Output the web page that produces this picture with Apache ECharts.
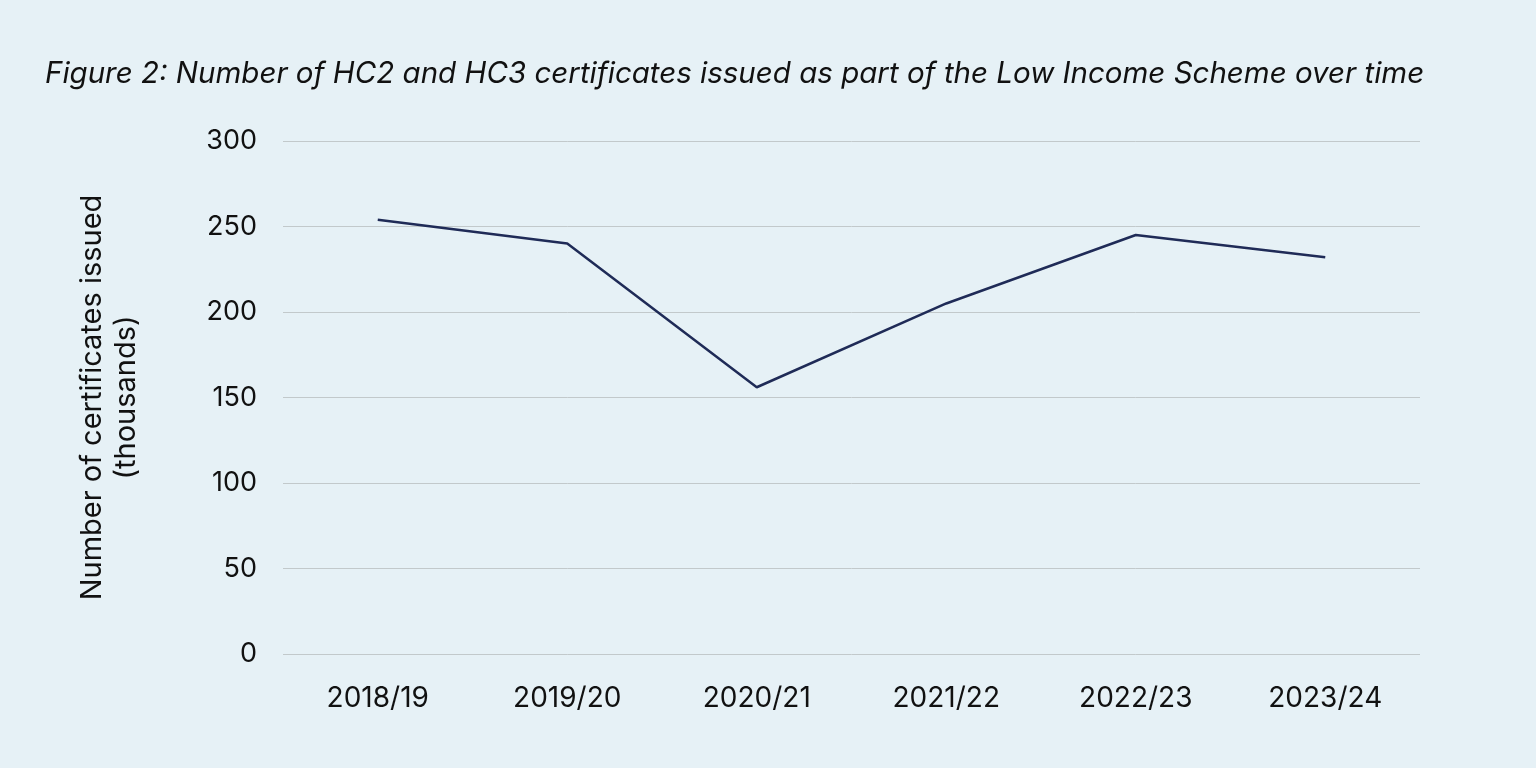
<!DOCTYPE html>
<html>
<head>
<meta charset="utf-8">
<script src="https://cdn.jsdelivr.net/npm/echarts@6/dist/echarts.min.js"></script>
<style>
	html, body { margin: 0; padding: 0; background: #e6f1f6; }
	#chart { width: 1536px; height: 768px; }
</style>
</head>
<body>
<div id="chart"></div>
<script>
	// 数据
	var years = ['2018/19', '2019/20', '2020/21', '2021/22', '2022/23', '2023/24'];
	var certificates = [254, 240, 156, 205, 245, 232];
	var yTicks = [0, 50, 100, 150, 200, 250, 300];

	var font = 'Inter, "Open Sans", sans-serif';
	var chart = echarts.init(document.getElementById('chart'));

	chart.setOption({
		backgroundColor: '#e6f1f6',
		animation: false,
		title: {
			text: 'Figure 2: Number of HC2 and HC3 certificates issued as part of the Low Income Scheme over time',
			left: 40,
			top: 54,
			textStyle: {
				fontFamily: font,
				fontStyle: 'italic',
				fontWeight: 'normal',
				fontSize: 29.5,
				color: '#111'
			}
		},
		grid: {
			left: 283,
			right: 116,
			top: 141,
			bottom: 114
		},
		xAxis: {
			type: 'category',
			data: years,
			boundaryGap: true,
			axisLine: { show: false },
			axisTick: { show: false },
			axisLabel: {
				margin: 31,
				fontFamily: font,
				fontSize: 28,
				color: '#111'
			}
		},
		yAxis: {
			type: 'value',
			min: yTicks[0],
			max: yTicks[yTicks.length - 1],
			interval: 50,
			name: 'Number of certificates issued\n(thousands)',
			nameLocation: 'middle',
			nameGap: 140,
			nameTextStyle: {
				fontFamily: font,
				fontSize: 29,
				color: '#111',
				lineHeight: 34,
				align: 'center'
			},
			axisLine: { show: false },
			axisTick: { show: false },
			axisLabel: {
				margin: 26,
				fontFamily: font,
				fontSize: 27,
				color: '#111'
			},
			splitLine: {
				lineStyle: { color: '#c2c9cb', width: 1 }
			}
		},
		series: [{
			type: 'line',
			data: certificates,
			symbol: 'none',
			lineStyle: { color: '#1f2b57', width: 2.5 }
		}]
	});
</script>
</body>
</html>
